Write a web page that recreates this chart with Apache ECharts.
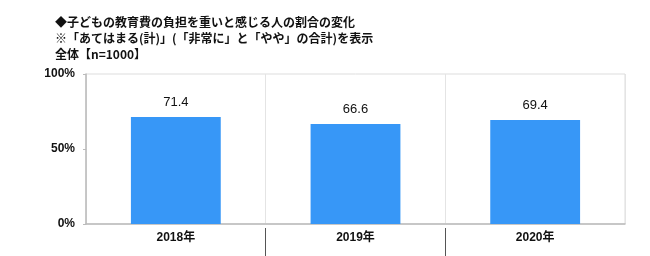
<!DOCTYPE html>
<html><head><meta charset="utf-8">
<script src="https://cdn.jsdelivr.net/npm/echarts@6/dist/echarts.min.js"></script>
<style>html,body{margin:0;padding:0;background:#fff}#c{width:650px;height:256px}</style>
</head><body><div id="c"></div>
<script>
const titleLines = ['◆子どもの教育費の負担を重いと感じる人の割合の変化', '※「あてはまる(計)」(「非常に」と「やや」の合計)を表示', '全体【n=1000】'];
const categories = ['2018年', '2019年', '2020年'];
const values = [71.4, 66.6, 69.4];
const yTicks = [0, 50, 100];

const font = '"Noto Sans CJK JP", "Noto Sans", sans-serif';
const latin = '"Liberation Sans", Arial, "Noto Sans CJK JP", sans-serif';
// boundary points between categories (n+1 points), used only for separator ticks
const boundaries = categories.map((c, i) => 'b' + i).concat(['b' + categories.length]);

const chart = echarts.init(document.getElementById('c'), null, {renderer: 'canvas'});
chart.setOption({
  animation: false,
  backgroundColor: '#fff',
  title: {
    text: titleLines.join('\n'),
    left: 50, top: 9,
    textStyle: {fontFamily: font, fontSize: 12, fontWeight: 'bold', color: '#111', lineHeight: 16}
  },
  grid: {left: 86, right: 25, top: 74, bottom: 32, show: true, borderColor: '#dddddd', borderWidth: 1},
  xAxis: [{
    type: 'category', data: categories,
    axisLine: {show: true, lineStyle: {color: '#bbbbbb', width: 1.5}},
    axisTick: {show: false},
    axisLabel: {fontFamily: latin, fontSize: 12, fontWeight: 'bold', color: '#111', margin: 8},
    splitLine: {show: true, lineStyle: {color: '#e4e4e4', width: 1}}
  }, {
    type: 'category', data: boundaries, boundaryGap: false, position: 'bottom', offset: 4,
    axisLine: {show: false},
    axisLabel: {show: false},
    splitLine: {show: false},
    axisTick: {show: true, length: 28, interval: function (i) { return i > 0 && i < categories.length; },
      lineStyle: {color: '#555', width: 1}}
  }],
  yAxis: {
    type: 'value', min: yTicks[0], max: yTicks[yTicks.length - 1], interval: 50,
    axisLine: {show: true, lineStyle: {color: '#bbbbbb', width: 1.5}},
    axisTick: {show: true, length: 3, lineStyle: {color: '#bbbbbb'}},
    axisLabel: {formatter: '{value}%', fontFamily: latin, fontSize: 12, fontWeight: 'bold', color: '#111', margin: 11},
    splitLine: {show: false}
  },
  series: [{
    type: 'bar', data: values, barWidth: '50%', xAxisIndex: 0,
    itemStyle: {color: '#3797f7'},
    label: {show: true, position: 'top', distance: 8, fontFamily: latin, fontSize: 13, color: '#111',
      formatter: p => p.value.toFixed(1)}
  }]
});
</script></body></html>
